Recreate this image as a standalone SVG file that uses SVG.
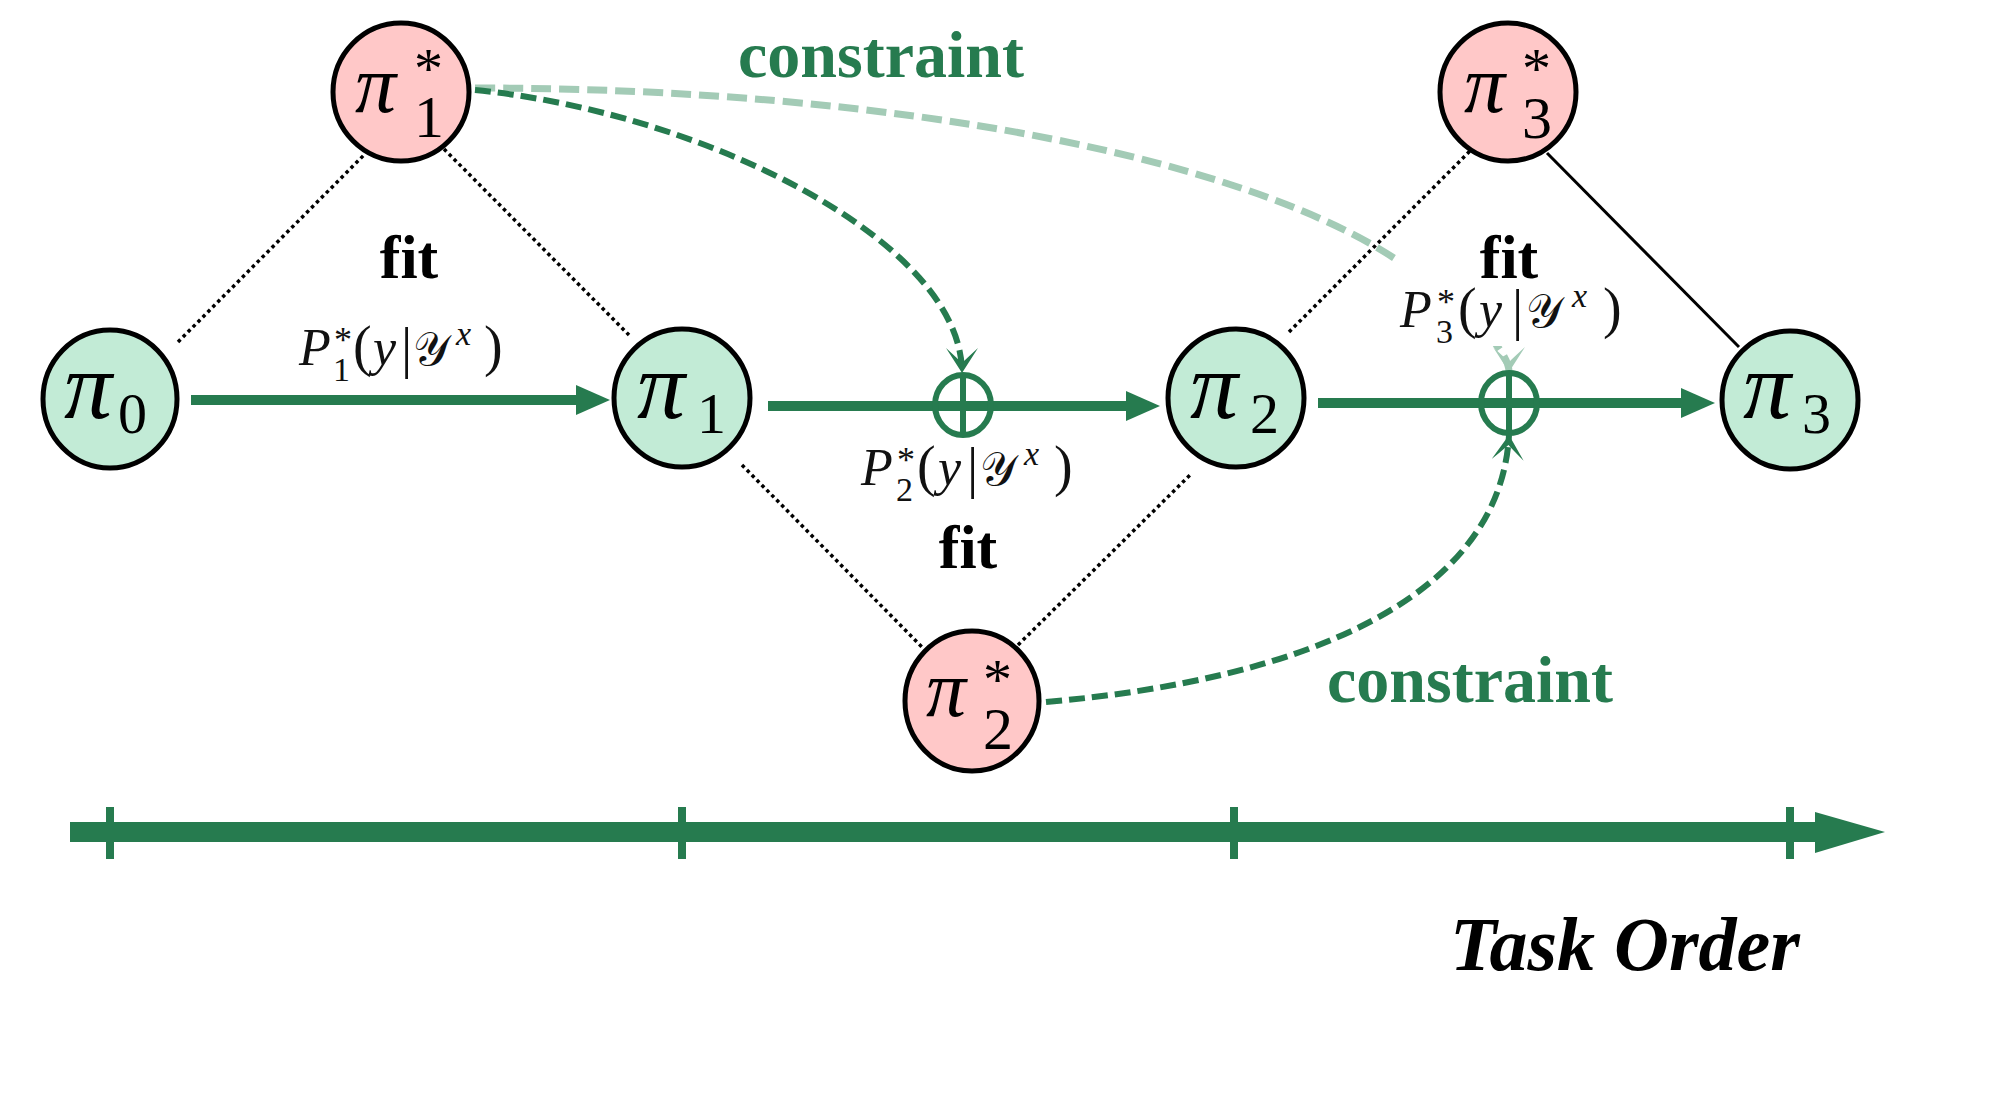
<svg xmlns="http://www.w3.org/2000/svg" width="1998" height="1116" viewBox="0 0 1998 1116">
<style>
.node{stroke:#000;stroke-width:5}
.g{fill:#c2ebd6}
.p{fill:#ffc8c8}
.lab{font-family:"Liberation Serif",serif;fill:#000}
.pi{font-style:italic}
.dot{stroke:#000;stroke-width:3.5;stroke-dasharray:3.5 3.5;fill:none}
.flow{stroke:#267b4f;stroke-width:10;fill:none}
.dash{stroke:#267b4f;stroke-width:6;stroke-dasharray:16 7;fill:none}
.ldash{stroke:#a3cbb6;stroke-width:7;stroke-dasharray:20 8;fill:none}
.fit{font-family:"Liberation Serif",serif;font-weight:bold;font-size:62px;fill:#000;text-anchor:middle}
.con{font-family:"Liberation Serif",serif;font-weight:bold;font-size:66px;fill:#267b4f}
.m{font-family:"Liberation Serif",serif;font-size:52px;fill:#111}
.mi{font-style:italic}
.scr{font-family:"DejaVu Sans",sans-serif;font-weight:normal;font-size:46px}
.plus{stroke:#267b4f;stroke-width:6;fill:none}
</style>
<defs>
<marker id="head" markerUnits="userSpaceOnUse" markerWidth="40" markerHeight="40" viewBox="0 -20 40 40" refX="0" refY="0" orient="auto">
<path d="M0,-15 L34,0 L0,15 Z" fill="#267b4f"/>
</marker>
<marker id="barb" markerUnits="userSpaceOnUse" markerWidth="40" markerHeight="40" viewBox="-30 -20 40 40" refX="0" refY="0" orient="auto">
<path d="M0,0 L-25,-16 Q-14,-4 -10,0 Q-14,4 -25,16 Z" fill="#267b4f"/>
</marker>
<marker id="lbarb" markerUnits="userSpaceOnUse" markerWidth="40" markerHeight="40" viewBox="-30 -20 40 40" refX="0" refY="0" orient="auto">
<path d="M0,0 L-25,-16 Q-14,-4 -10,0 Q-14,4 -25,16 Z" fill="#a3cbb6"/>
</marker>
</defs>
<rect width="1998" height="1116" fill="#fff"/>

<g id="connectors">
<line class="dot" x1="178" y1="342" x2="364" y2="155"/>
<line class="dot" x1="444" y1="149" x2="629" y2="335"/>
<line class="dot" x1="742" y1="465" x2="922" y2="647"/>
<line class="dot" x1="1018" y1="645" x2="1190" y2="475"/>
<line class="dot" x1="1289" y1="332" x2="1471" y2="150"/>
<line x1="1547" y1="153" x2="1739" y2="347" stroke="#000" stroke-width="3"/>
<line class="flow" x1="191" y1="400" x2="576" y2="400" marker-end="url(#head)"/>
<line class="flow" x1="768" y1="406" x2="1126" y2="406" marker-end="url(#head)"/>
<line class="flow" x1="1318" y1="403" x2="1681" y2="403" marker-end="url(#head)"/>
<path class="ldash" d="M475,88 C900,88 1250,160 1400,262 Q1509,340 1509,372" marker-end="url(#lbarb)"/>
<path class="dash" d="M475,90 C700,112 962,240 962,373" marker-end="url(#barb)"/>
<path class="dash" d="M1046,702 C1300,680 1500,600 1509,435" marker-end="url(#barb)"/>
</g>

<g id="oplus1"><ellipse class="plus" cx="963" cy="405" rx="28" ry="30"/><line x1="963" y1="375" x2="963" y2="435" stroke="#267b4f" stroke-width="6"/></g>
<g id="oplus2"><ellipse class="plus" cx="1509" cy="403" rx="28" ry="30"/><line x1="1509" y1="373" x2="1509" y2="433" stroke="#267b4f" stroke-width="6"/></g>

<g id="pi0"><ellipse class="node g" cx="110" cy="399" rx="67" ry="69"/><text class="lab"><tspan class="pi" x="64" y="418" font-size="96">π</tspan><tspan x="118" y="433" font-size="58">0</tspan></text></g>
<g id="pi1"><ellipse class="node g" cx="682" cy="398" rx="68" ry="69"/><text class="lab"><tspan class="pi" x="637" y="418" font-size="96">π</tspan><tspan x="697" y="433" font-size="58">1</tspan></text></g>
<g id="pi2"><ellipse class="node g" cx="1236" cy="398" rx="68" ry="69"/><text class="lab"><tspan class="pi" x="1190" y="418" font-size="96">π</tspan><tspan x="1250" y="433" font-size="58">2</tspan></text></g>
<g id="pi3"><ellipse class="node g" cx="1790" cy="400" rx="68" ry="69"/><text class="lab"><tspan class="pi" x="1743" y="418" font-size="96">π</tspan><tspan x="1802" y="433" font-size="58">3</tspan></text></g>
<g id="pi1star"><ellipse class="node p" cx="401" cy="92" rx="68" ry="69"/><text class="lab"><tspan class="pi" x="355" y="112" font-size="82">π</tspan><tspan x="414" y="88" font-size="58">*</tspan><tspan x="414" y="137" font-size="60">1</tspan></text></g>
<g id="pi3star"><ellipse class="node p" cx="1508" cy="92" rx="68" ry="69"/><text class="lab"><tspan class="pi" x="1464" y="112" font-size="82">π</tspan><tspan x="1522" y="88" font-size="58">*</tspan><tspan x="1522" y="138" font-size="60">3</tspan></text></g>
<g id="pi2star"><ellipse class="node p" cx="972" cy="701" rx="67" ry="70"/><text class="lab"><tspan class="pi" x="926" y="716" font-size="80">π</tspan><tspan x="983" y="699" font-size="58">*</tspan><tspan x="983" y="749" font-size="60">2</tspan></text></g>

<g id="labels">
<text class="fit" x="409" y="278">fit</text>
<text class="fit" x="968" y="568">fit</text>
<text class="con" x="738" y="77">constraint</text>
<text class="con" x="1327" y="702">constraint</text>
<text class="m" x="299" y="365"><tspan class="mi">P</tspan><tspan x="333" y="381" font-size="34">1</tspan><tspan x="334" y="352" font-size="36">*</tspan><tspan x="353" y="365" font-size="56">(</tspan><tspan class="mi" x="373" y="365">y</tspan><tspan x="401" y="367" font-size="56">|</tspan><tspan class="scr" x="413" y="365">𝒴</tspan><tspan class="mi" x="456" y="345" font-size="34">x</tspan><tspan x="484" y="365" font-size="56">)</tspan></text>
<text class="m" x="861" y="485"><tspan class="mi">P</tspan><tspan x="896" y="501" font-size="34">2</tspan><tspan x="897" y="472" font-size="36">*</tspan><tspan x="917" y="485" font-size="56">(</tspan><tspan class="mi" x="938" y="485">y</tspan><tspan x="967" y="487" font-size="56">|</tspan><tspan class="scr" x="980" y="485">𝒴</tspan><tspan class="mi" x="1024" y="465" font-size="34">x</tspan><tspan x="1054" y="485" font-size="56">)</tspan></text>
<rect x="1396" y="256" width="229" height="90" fill="#fff"/>
<text class="fit" x="1509" y="278">fit</text>
<text class="m" x="1400" y="327"><tspan class="mi">P</tspan><tspan x="1436" y="343" font-size="34">3</tspan><tspan x="1437" y="314" font-size="36">*</tspan><tspan x="1458" y="327" font-size="56">(</tspan><tspan class="mi" x="1479" y="327">y</tspan><tspan x="1512" y="329" font-size="56">|</tspan><tspan class="scr" x="1526" y="327">𝒴</tspan><tspan class="mi" x="1572" y="307" font-size="34">x</tspan><tspan x="1603" y="327" font-size="56">)</tspan></text>
</g>

<g id="timeline">
<rect x="70" y="822" width="1747" height="20" fill="#267b4f"/>
<polygon points="1815,812 1885,832 1815,853" fill="#267b4f"/>
<rect x="106" y="807" width="8" height="52" fill="#267b4f"/>
<rect x="678" y="807" width="8" height="52" fill="#267b4f"/>
<rect x="1230" y="807" width="8" height="52" fill="#267b4f"/>
<rect x="1786" y="807" width="8" height="52" fill="#267b4f"/>
<text x="1450" y="970" font-family="Liberation Serif, serif" font-weight="bold" font-style="italic" font-size="76" fill="#000">Task Order</text>
</g>
</svg>
